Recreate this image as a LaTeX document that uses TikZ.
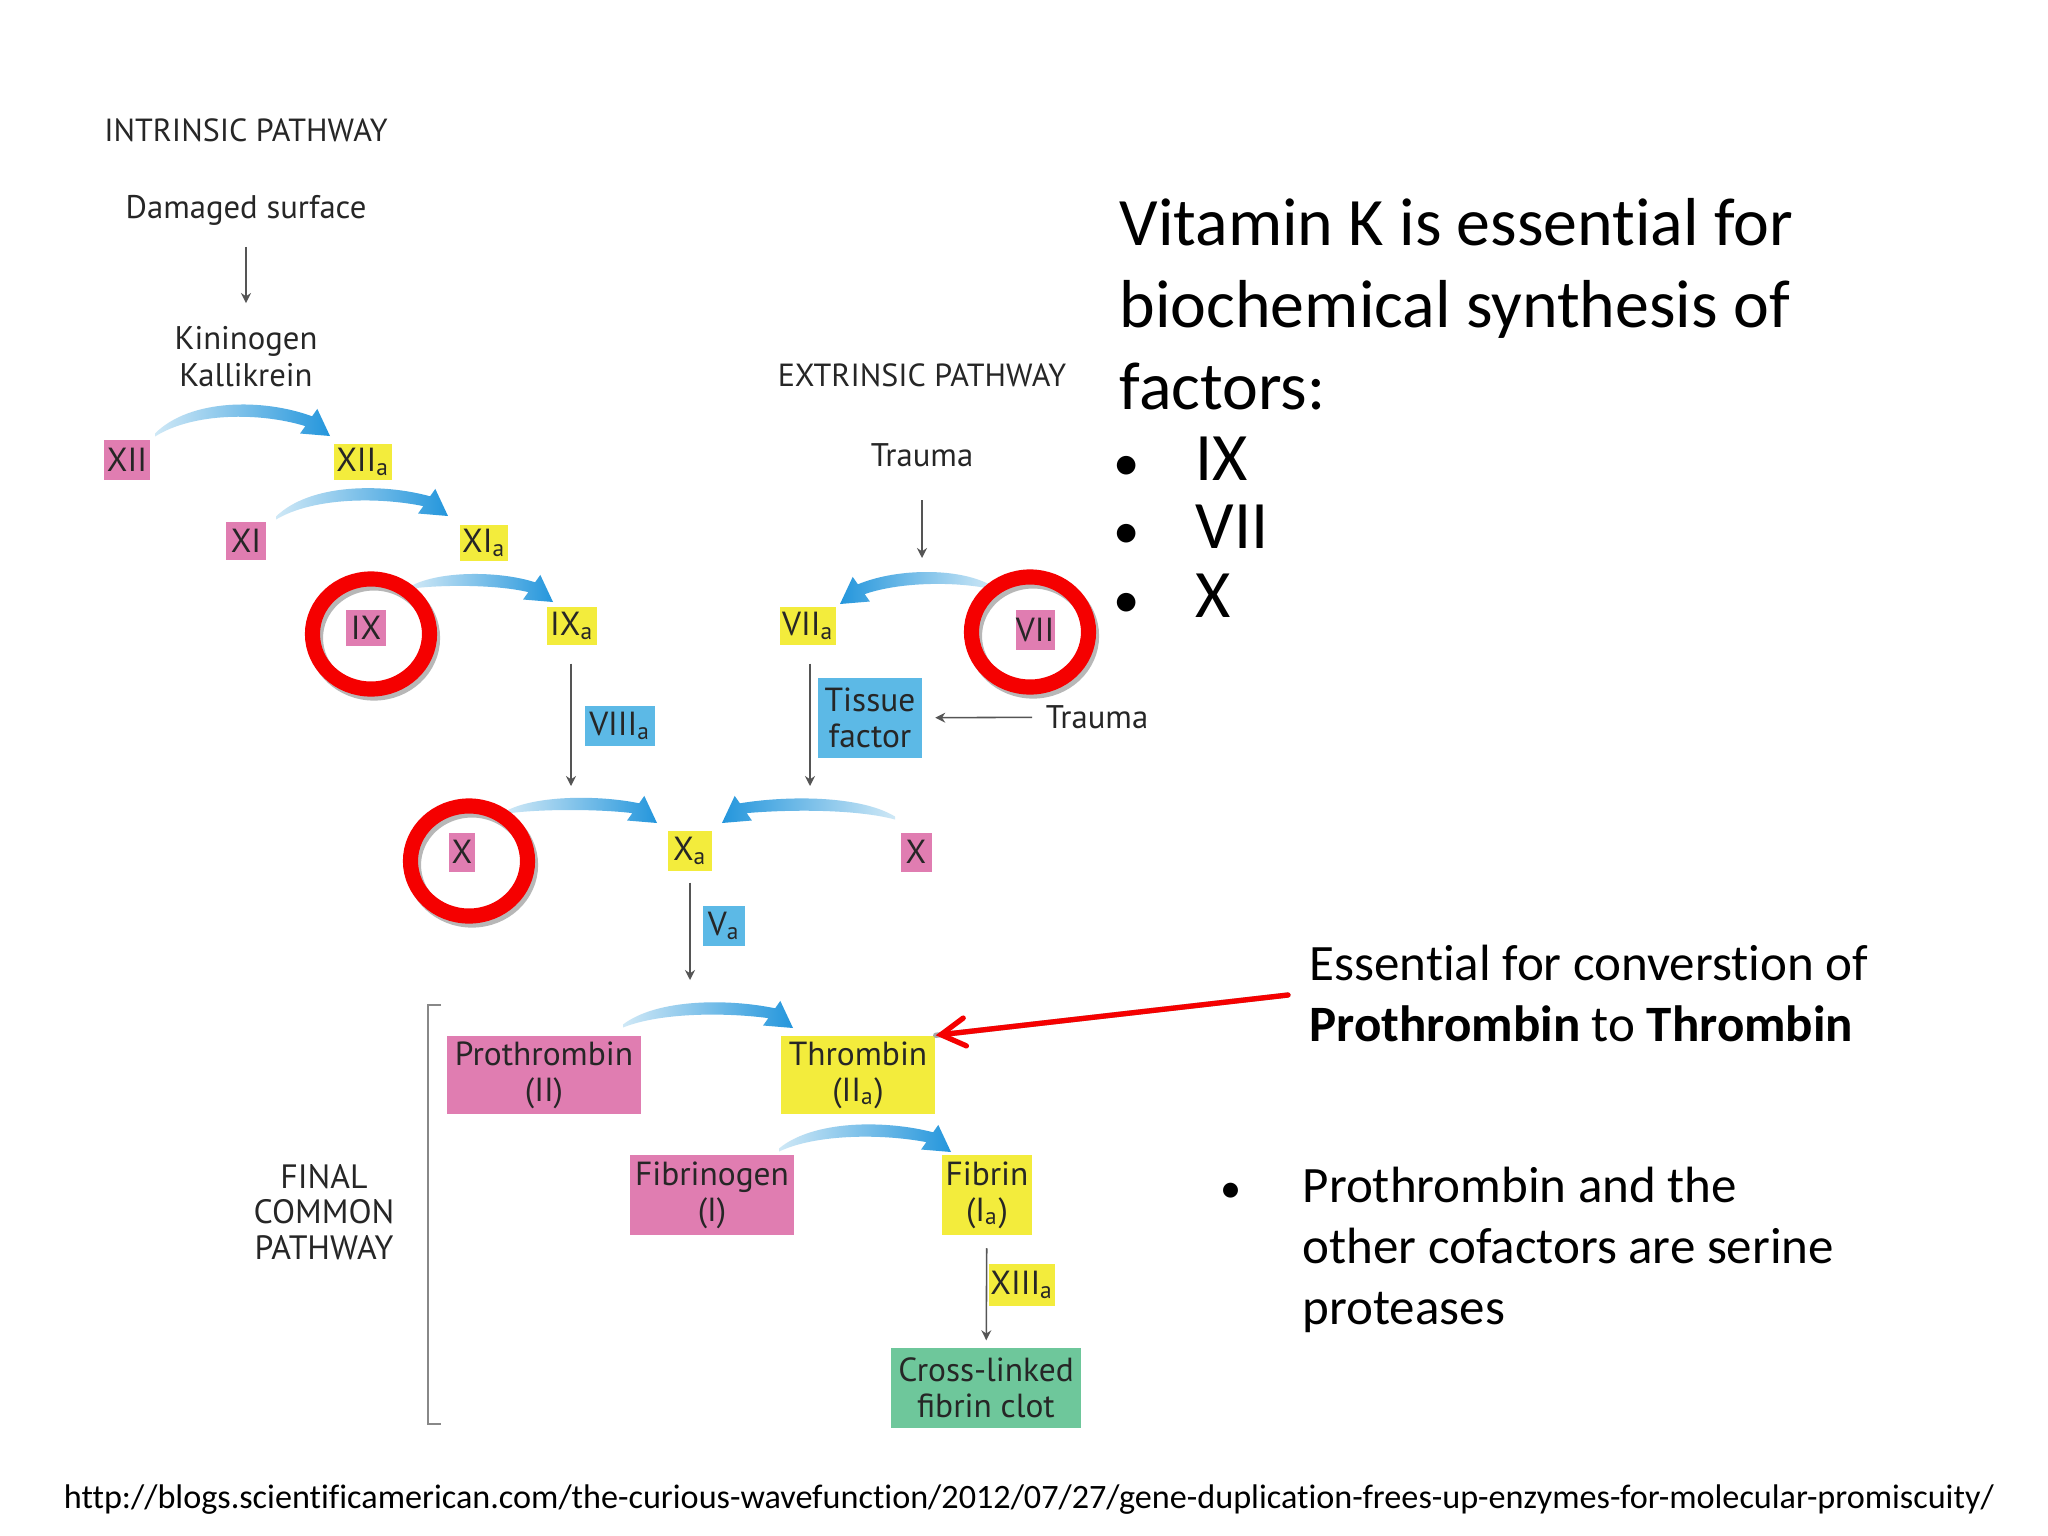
\documentclass[tikz,border=0pt]{standalone}
\usepackage{fontspec}
\setmainfont{Carlito}[Ligatures=NoCommon]
\newfontfamily\diag{PT Sans}
\usepackage{graphicx}
\usetikzlibrary{arrows.meta,calc}
\definecolor{fpink}{HTML}{E07DB1}
\definecolor{fyellow}{HTML}{F3EC3C}
\definecolor{fblue}{HTML}{5CB9E6}
\definecolor{fgreen}{HTML}{6EC79B}
\definecolor{ablue}{HTML}{2496DC}
\definecolor{alight}{HTML}{CFE8F6}
\definecolor{txt}{HTML}{262626}
\definecolor{agray}{HTML}{555555}
\definecolor{vred}{HTML}{F50000}
\tikzset{
  lab/.style={inner sep=0pt, align=center, text=txt, font=\diag\fontsize{9.3}{10.5}\selectfont},
  head/.style={inner sep=0pt, text=txt, font=\diag\fontsize{9.1}{10}\selectfont},
  fbox/.style={lab, font=\diag\fontsize{9.5}{10.3}\selectfont},
  pinkb/.style={fbox, fill=fpink},
  yelb/.style={fbox, fill=fyellow},
  blueb/.style={fbox, fill=fblue},
  greenb/.style={fbox, fill=fgreen},
  thinarr/.style={draw=agray, line width=0.45pt, -{Stealth[length=1mm,width=1mm]}},
  bigtxt/.style={inner sep=0pt, anchor=base west, font=\fontsize{19.3}{22}\selectfont},
  midtxt/.style={inner sep=0pt, anchor=base west, font=\fontsize{14.5}{17}\selectfont},
  bigbul/.style={inner sep=0pt, anchor=base, font=\fontsize{15}{17}\selectfont},
  midbul/.style={inner sep=0pt, anchor=base, font=\fontsize{12}{14}\selectfont},
  ring/.style={draw=vred, line width=4.3pt},
  ringshadow/.style={draw=black!40, line width=4.3pt, opacity=0.7},
}
% blue curved conversion arrow: tail (x1,y1), tip (x2,y2), top of arc y, left colour, right colour
\newcommand\barrow[7]{%
  \pgfmathsetmacro\dirr{(#3>#1)*2-1}%
  \pgfmathsetmacro\LL{abs(#3-#1)}%
  \pgfmathsetmacro\dyy{#4-#2}%
  \pgfmathsetmacro\pp{#5-#2}%
  \pgfmathsetmacro\qa{(8*\pp-(-1.5+\dyy-19.7))/6}%
  \pgfmathsetmacro\qb{(8*(\pp+12)-(1.5+\dyy-9.9))/6}%
  \shade[left color=#6, right color=#7]
    (#1,{#2-1.5}) .. controls ({#1+\dirr*0.2*\LL},{#2+\qa}) and ({#1+\dirr*0.62*\LL},{#2+\qa}) ..
    ({#1+\dirr*(\LL-17.9)},{#2+\dyy-19.7})
    -- ({#1+\dirr*(\LL-12.7)},{#2+\dyy-27.1}) -- (#3,#4)
    -- ({#1+\dirr*(\LL-29.9)},{#2+\dyy-2.5}) -- ({#1+\dirr*(\LL-24.7)},{#2+\dyy-9.9})
    .. controls ({#1+\dirr*0.6*\LL},{#2+\qb}) and ({#1+\dirr*0.22*\LL},{#2+\qb}) ..
    (#1,{#2+1.5}) -- cycle;%
}
\begin{document}
\begin{tikzpicture}[x=0.01cm,y=-0.01cm]
\fill[white] (0,0) rectangle (2048,1536);
\useasboundingbox (0,0) rectangle (2048,1536);

% ---------- headings and free labels ----------
\node[head] (intr) at (246,130) {INTRINSIC PATHWAY};
\node[lab] (dmg) at (246,210) {Damaged surface};
\node[lab, font=\diag\fontsize{9.3}{10.5}\selectfont] (kin) at (246,357) {Kininogen\\Kallikrein};
\node[head] (ext) at (922,375) {EXTRINSIC PATHWAY};
\node[lab] (tr1) at (922,455) {Trauma};
\node[lab] (tr2) at (1097,717) {Trauma};
\node[lab, font=\diag\fontsize{9.6}{10}\selectfont] (fcp) at (324,1212) {FINAL\\COMMON\\PATHWAY};

% ---------- blue conversion arrows ----------
\barrow{155}{435}{330}{436}{405}{alight}{ablue}
\barrow{276}{518}{448}{516}{489}{alight}{ablue}
\barrow{412}{587}{553}{602}{574}{alight}{ablue}
\barrow{993}{588}{840}{604}{572}{ablue}{alight}
\barrow{507}{812}{657}{823}{798}{alight}{ablue}
\barrow{895}{818}{722}{823}{799}{ablue}{alight}
\barrow{623}{1026}{793}{1028}{1003}{alight}{ablue}
\barrow{779}{1150}{951}{1152}{1125}{alight}{ablue}

% ---------- factor boxes ----------
\node[pinkb, minimum width=4.6mm, minimum height=3.9mm] (xii) at (127,460) {XII};
\node[yelb, minimum width=5.8mm, minimum height=3.5mm] (xiia) at (363,462) {XII\textsubscript{a}};
\node[pinkb, minimum width=3.9mm, minimum height=3.8mm] (xi) at (246,541) {XI};
\node[yelb, minimum width=4.8mm, minimum height=3.5mm] (xia) at (484,543) {XI\textsubscript{a}};
\node[pinkb, minimum width=3.9mm, minimum height=3.6mm] (ix) at (366,628) {IX};
\node[yelb, minimum width=5.0mm, minimum height=3.8mm] (ixa) at (572,626) {IX\textsubscript{a}};
\node[yelb, minimum width=5.5mm, minimum height=3.8mm] (viia) at (808,626) {VII\textsubscript{a}};
\node[pinkb, minimum width=3.9mm, minimum height=3.9mm] (vii) at (1035,630) {VII};
\node[blueb, minimum width=10.3mm, minimum height=7.9mm] (tf) at (870,718) {Tissue\\factor};
\node[blueb, minimum width=6.9mm, minimum height=4.0mm] (viiia) at (620,726) {VIII\textsubscript{a}};
\node[pinkb, minimum width=2.6mm, minimum height=3.9mm] (xl) at (462,852) {X};
\node[yelb, minimum width=4.3mm, minimum height=4.0mm] (xa) at (690,851) {X\textsubscript{a}};
\node[pinkb, minimum width=3.1mm, minimum height=3.9mm] (xr) at (916,852) {X};
\node[blueb, minimum width=4.1mm, minimum height=4.0mm] (va) at (724,926) {V\textsubscript{a}};
\node[pinkb, minimum width=19.3mm, minimum height=7.8mm] (pro) at (544,1075) {Prothrombin\\(II)};
\node[yelb, minimum width=15.4mm, minimum height=7.8mm] (thr) at (858,1075) {Thrombin\\(II\textsubscript{a})};
\node[pinkb, minimum width=16.4mm, minimum height=7.9mm] (fbg) at (712,1195) {Fibrinogen\\(I)};
\node[yelb, minimum width=9.0mm, minimum height=7.9mm] (fbn) at (987,1195) {Fibrin\\(I\textsubscript{a})};
\node[yelb, minimum width=6.6mm, minimum height=4.2mm] (xiiia) at (1022,1285) {XIII\textsubscript{a}};
\node[greenb, minimum width=18.9mm, minimum height=8.0mm] (clot) at (986,1388) {Cross-linked\\fibrin clot};

% ---------- thin arrows ----------
\coordinate (tr1end) at (922,558);
\coordinate (ixend) at (571,786);
\coordinate (viiend) at (810,786);
\coordinate (xaend) at (690,980);
\draw[thinarr, shorten <=2.1mm, shorten >=2.3mm] (dmg) -- (kin);
\draw[thinarr] ($(tr1.south)+(0,33)$) -- (tr1end);
\draw[thinarr, shorten <=1.3mm, shorten >=1.3mm] (tr2) -- (tf);
\draw[thinarr] ($(ixa.south)+(-1,18)$) -- (ixend);
\draw[thinarr] ($(viia.south)+(2,18)$) -- (viiend);
\draw[thinarr] ($(xa.south)+(0,11)$) -- (xaend);
\draw[thinarr, shorten <=1.3mm, shorten >=0.7mm] (fbn) -- (clot);

% ---------- bracket of the common pathway ----------
\draw[agray!70, line width=0.6pt] (441,1005) -- (428,1005) -- (428,1424) -- (441,1424);

% ---------- red highlight rings ----------
\draw[ringshadow] (374,638) ellipse [x radius=5.85mm, y radius=5.5mm];
\draw[ring] (371,634) ellipse [x radius=5.85mm, y radius=5.5mm];
\draw[ringshadow] (1033,636) ellipse [x radius=5.85mm, y radius=5.5mm];
\draw[ring] (1030,632) ellipse [x radius=5.85mm, y radius=5.5mm];
\draw[ringshadow] (472,865) ellipse [x radius=5.85mm, y radius=5.5mm];
\draw[ring] (469,861) ellipse [x radius=5.85mm, y radius=5.5mm];

% ---------- red pointer ----------
\coordinate (redtail) at (1288,995);
\draw[black!35, line width=1.5pt, line cap=round, shift={(2,4)}] (redtail) -- (thr.north east);
\draw[vred, line width=1.5pt, line cap=round, -{Straight Barb[length=2.4mm,width=2.8mm,line cap=round]}] (redtail) -- (thr.north east);

% ---------- slide text ----------
\node[bigtxt] (v1) at (1119,245) {Vitamin K is essential for};
\node[bigtxt] (v2) at (1119,327) {biochemical synthesis of};
\node[bigtxt] (v3) at (1119,409) {factors:};
\node[bigbul] (b1) at (1127,480) {•};
\node[bigtxt] (f1) at (1195,480) {IX};
\node[bigbul] (b2) at (1127,548) {•};
\node[bigtxt] (f2) at (1195,548) {VII};
\node[bigbul] (b3) at (1127,617) {•};
\node[bigtxt] (f3) at (1195,617) {X};

\node[midtxt] (e1) at (1309,980) {Essential for converstion of};
\node[midtxt] (e2) at (1309,1041) {\textbf{Prothrombin} to \textbf{Thrombin}};

\node[midbul] (b4) at (1231,1202) {•};
\node[midtxt] (p1) at (1302,1202) {Prothrombin and the};
\node[midtxt] (p2) at (1302,1263) {other cofactors are serine};
\node[midtxt] (p3) at (1302,1324) {proteases};

\node[inner sep=0pt] (url) at (1029,1500) {\resizebox{19.29cm}{!}{\fontsize{11}{13}\selectfont http://blogs.scientificamerican.com/the-curious-wavefunction/2012/07/27/gene-duplication-frees-up-enzymes-for-molecular-promiscuity/}};
\end{tikzpicture}
\end{document}
